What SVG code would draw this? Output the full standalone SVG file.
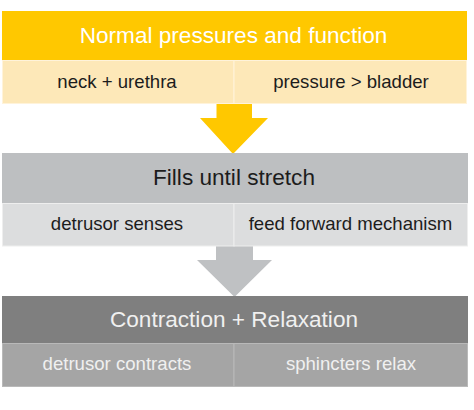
<svg xmlns="http://www.w3.org/2000/svg" width="474" height="410" viewBox="0 0 474 410">
<style>
  text { font-family: "Liberation Sans", Arial, sans-serif; text-anchor: middle; }
  .h { font-size: 22.6px; }
  .s { font-size: 18.6px; }
  .dark { fill: #1c1c1c; }
  .light { fill: #ffffff; }
  .light2 { fill: #f0f0f0; }
</style>
<rect width="474" height="410" fill="#ffffff"/>
<g id="connectors">
  <polygon points="216.5,103 252,103 252,118 268,118 233,154 200,118 216.5,118" fill="#FFC800"/>
  <polygon points="216,246 253,246 253,260 272,260 234.5,297 197,260 216,260" fill="#BFC1C3"/>
</g>
<g id="node-normal">
  <rect x="2" y="11" width="465" height="49" fill="#FFC800"/>
  <text class="h light" x="233.5" y="43">Normal pressures and function</text>
  <rect x="2.5" y="60.5" width="231.5" height="43" fill="#FDE8B8" stroke="#FFF3DA" stroke-width="1"/>
  <rect x="234" y="60.5" width="232.5" height="43" fill="#FDE8B8" stroke="#FFF3DA" stroke-width="1"/>
  <text class="s dark" x="117" y="87.5">neck + urethra</text>
  <text class="s dark" x="351" y="87.5">pressure &gt; bladder</text>
</g>
<g id="node-fills">
  <rect x="2" y="153" width="466" height="50" fill="#BDBFC1"/>
  <text class="h dark" x="234" y="185">Fills until stretch</text>
  <rect x="2.5" y="203.5" width="231.5" height="42.5" fill="#DCDDDE" stroke="#EEEEEE" stroke-width="1"/>
  <rect x="234" y="203.5" width="233.5" height="42.5" fill="#DCDDDE" stroke="#EEEEEE" stroke-width="1"/>
  <text class="s dark" x="117" y="230">detrusor senses</text>
  <text class="s dark" x="350.5" y="230">feed forward mechanism</text>
</g>
<g id="node-contraction">
  <rect x="2" y="296" width="466" height="47" fill="#7F7F7F"/>
  <text class="h light2" x="234" y="327">Contraction + Relaxation</text>
  <rect x="2.5" y="343.5" width="231.5" height="43" fill="#A5A5A5" stroke="#B9B9B9" stroke-width="1"/>
  <rect x="234" y="343.5" width="233.5" height="43" fill="#A5A5A5" stroke="#B9B9B9" stroke-width="1"/>
  <text class="s light2" x="117" y="370">detrusor contracts</text>
  <text class="s light2" x="351" y="370">sphincters relax</text>
</g>
</svg>
